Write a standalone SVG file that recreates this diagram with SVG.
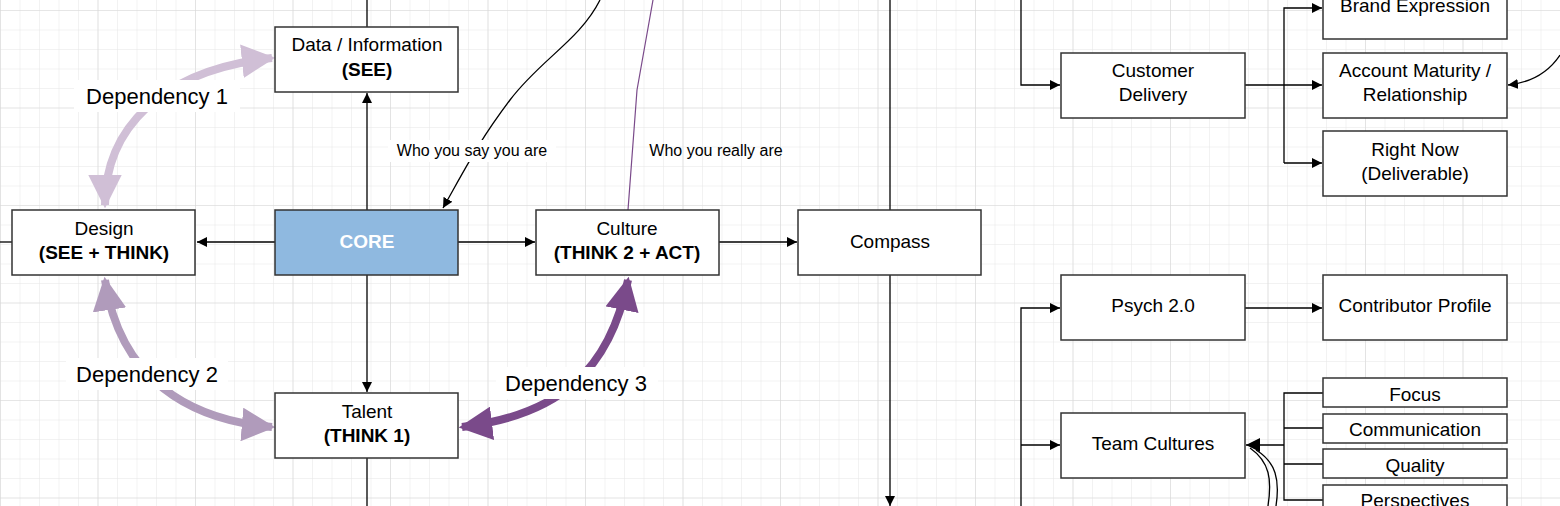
<svg xmlns="http://www.w3.org/2000/svg" width="1560" height="506" viewBox="0 0 1560 506">
<defs>
<pattern id="g" width="19.5" height="19.5" patternUnits="userSpaceOnUse" x="1" y="11"><path d="M19.5 0V19.5H0" fill="none" stroke="#e6e6e6" stroke-width="1"/></pattern>
<pattern id="G" width="97.5" height="97.5" patternUnits="userSpaceOnUse" x="1" y="11"><path d="M97.5 0V97.5H0" fill="none" stroke="#d9d9d9" stroke-width="1.2"/></pattern>
<marker id="a" viewBox="0 0 10 10" refX="10" refY="5" markerWidth="10" markerHeight="10" markerUnits="userSpaceOnUse" orient="auto"><path d="M0 0L10 5L0 10z" fill="#000"/></marker>
<marker id="ab" viewBox="0 0 10 10" refX="10" refY="5" markerWidth="22" markerHeight="14" markerUnits="userSpaceOnUse" orient="auto"><path d="M0 0L10 5L0 10z" fill="#000"/></marker>
<marker id="d1" viewBox="0 0 10 10" refX="9" refY="5" markerWidth="4.2" markerHeight="4.2" orient="auto-start-reverse"><path d="M0 0L10 5L0 10z" fill="#d0bfd6"/></marker>
<marker id="d2" viewBox="0 0 10 10" refX="9" refY="5" markerWidth="4.2" markerHeight="4.2" orient="auto-start-reverse"><path d="M0 0L10 5L0 10z" fill="#b09bbb"/></marker>
<marker id="d3" viewBox="0 0 10 10" refX="9" refY="5" markerWidth="4.2" markerHeight="4.2" orient="auto-start-reverse"><path d="M0 0L10 5L0 10z" fill="#7a4a8a"/></marker>
</defs>
<style>
.b{fill:#fff;stroke:#333;stroke-width:1.5}
.t{font-family:"Liberation Sans",Arial,sans-serif;font-size:19px;fill:#000;text-anchor:middle}
.k{font-weight:bold}
.s{font-family:"Liberation Sans",Arial,sans-serif;font-size:16px;fill:#000;text-anchor:middle}
.dl{font-family:"Liberation Sans",Arial,sans-serif;font-size:22px;fill:#000;text-anchor:middle}
.l{fill:none;stroke:#000;stroke-width:1.3}
</style>
<rect width="1560" height="506" fill="#fff"/>
<rect width="1560" height="506" fill="url(#g)"/>
<rect width="1560" height="506" fill="url(#G)"/>
<g id="connectors">
<path class="l" d="M367 0V27"/>
<path class="l" d="M367 210V93" marker-end="url(#a)"/>
<path class="l" d="M367 275V392" marker-end="url(#a)"/>
<path class="l" d="M367 458V506"/>
<path class="l" d="M275 242H197" marker-end="url(#a)"/>
<path class="l" d="M0 242H12"/>
<path class="l" d="M458 242H535" marker-end="url(#a)"/>
<path class="l" d="M719 242H797" marker-end="url(#a)"/>
<path class="l" d="M890 0V210"/>
<path class="l" d="M890 275V506" marker-end="url(#a)"/>
<path class="l" d="M600 0C580 40 540 60 510 100C480 140 470 160 443 208" marker-end="url(#a)"/>
<path d="M653 0L637 90L628 210" fill="none" stroke="#7a4a8a" stroke-width="1.2"/>
<path class="l" d="M1021 0V85H1060" marker-end="url(#a)"/>
<path class="l" d="M1245 85H1322" marker-end="url(#a)"/>
<path class="l" d="M1284 163V8H1322" marker-end="url(#a)"/>
<path class="l" d="M1284 163H1322" marker-end="url(#a)"/>
<path class="l" d="M1560 55C1550 70 1535 82 1508 85" marker-end="url(#a)"/>
<path class="l" d="M1021 506V308H1060" marker-end="url(#a)"/>
<path class="l" d="M1021 445H1060" marker-end="url(#a)"/>
<path class="l" d="M1245 308H1322" marker-end="url(#a)"/>
<path class="l" d="M1323 393H1284V500H1323M1284 428H1323M1284 464H1323"/>
<path class="l" d="M1284 445H1246" marker-end="url(#ab)"/>
<path class="l" d="M1268 506C1272 480 1270 462 1250 448M1276 506C1280 480 1276 462 1256 450"/>
<path d="M105 205C105 130 160 70 272 58" fill="none" stroke="#d0bfd6" stroke-width="8" marker-start="url(#d1)" marker-end="url(#d1)"/>
<path d="M105 280C120 380 190 420 272 427" fill="none" stroke="#b09bbb" stroke-width="8" marker-start="url(#d2)" marker-end="url(#d2)"/>
<path d="M628 280C610 370 560 415 462 427" fill="none" stroke="#7a4a8a" stroke-width="8" marker-start="url(#d3)" marker-end="url(#d3)"/>
<rect x="74" y="80" width="166" height="32" fill="#fff"/>
<text class="dl" x="157" y="104">Dependency 1</text>
<rect x="66" y="358" width="162" height="32" fill="#fff"/>
<text class="dl" x="147" y="382">Dependency 2</text>
<rect x="496" y="367" width="162" height="32" fill="#fff"/>
<text class="dl" x="576" y="391">Dependency 3</text>
<rect x="388" y="140" width="168" height="22" fill="#fff"/>
<text class="s" x="472" y="156">Who you say you are</text>
<text class="s" x="716" y="156">Who you really are</text>
</g>
<g id="data"><rect class="b" x="275" y="27" width="183" height="65"/><text class="t" x="367" y="51">Data / Information</text><text class="t k" x="367" y="76">(SEE)</text></g>
<g id="design"><rect class="b" x="12" y="210" width="183" height="65"/><text class="t" x="104" y="235">Design</text><text class="t k" x="104" y="259">(SEE + THINK)</text></g>
<g id="core"><rect x="275" y="210" width="183" height="65" fill="#8fb9e0" stroke="#333" stroke-width="1.5"/><text class="t k" x="367" y="248" style="fill:#fff">CORE</text></g>
<g id="culture"><rect class="b" x="536" y="210" width="183" height="65"/><text class="t" x="627" y="235">Culture</text><text class="t k" x="627" y="259">(THINK 2 + ACT)</text></g>
<g id="compass"><rect class="b" x="798" y="210" width="183" height="65"/><text class="t" x="890" y="248">Compass</text></g>
<g id="talent"><rect class="b" x="275" y="393" width="183" height="65"/><text class="t" x="367" y="418">Talent</text><text class="t k" x="367" y="442">(THINK 1)</text></g>
<g id="customer"><rect class="b" x="1061" y="53" width="184" height="65"/><text class="t" x="1153" y="77">Customer</text><text class="t" x="1153" y="101">Delivery</text></g>
<g id="brand"><rect class="b" x="1323" y="-27" width="184" height="66"/><text class="t" x="1415" y="12">Brand Expression</text></g>
<g id="account"><rect class="b" x="1323" y="53" width="184" height="65"/><text class="t" x="1415" y="77">Account Maturity /</text><text class="t" x="1415" y="101">Relationship</text></g>
<g id="rightnow"><rect class="b" x="1323" y="131" width="184" height="65"/><text class="t" x="1415" y="156">Right Now</text><text class="t" x="1415" y="180">(Deliverable)</text></g>
<g id="psych"><rect class="b" x="1061" y="275" width="184" height="65"/><text class="t" x="1153" y="312">Psych 2.0</text></g>
<g id="contributor"><rect class="b" x="1323" y="275" width="184" height="65"/><text class="t" x="1415" y="312">Contributor Profile</text></g>
<g id="team"><rect class="b" x="1061" y="413" width="184" height="65"/><text class="t" x="1153" y="450">Team Cultures</text></g>
<g id="focus"><rect class="b" x="1323" y="378" width="184" height="29"/><text class="t" x="1415" y="401">Focus</text></g>
<g id="communication"><rect class="b" x="1323" y="414" width="184" height="29"/><text class="t" x="1415" y="436">Communication</text></g>
<g id="quality"><rect class="b" x="1323" y="449" width="184" height="29"/><text class="t" x="1415" y="472">Quality</text></g>
<g id="perspectives"><rect class="b" x="1323" y="485" width="184" height="29"/><text class="t" x="1415" y="507">Perspectives</text></g>
</svg>
